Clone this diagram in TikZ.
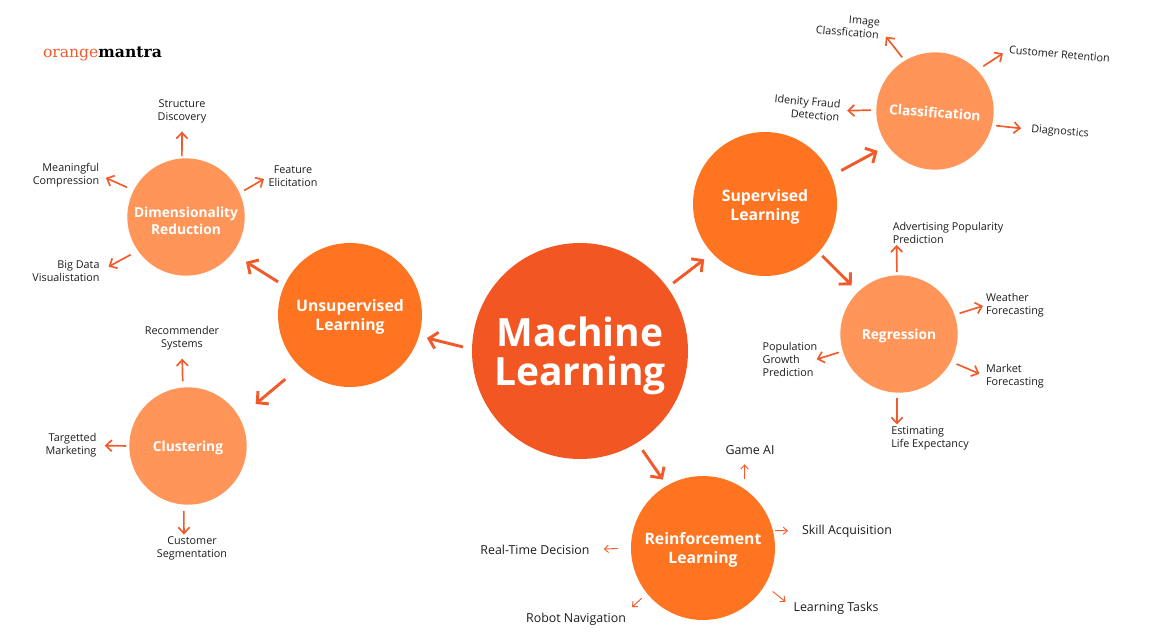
\documentclass[tikz,border=0pt]{standalone}
\usepackage{fontspec}
\setmainfont{Open Sans}
\newfontfamily\logofont{DejaVu Serif}
\usetikzlibrary{arrows.meta}
\definecolor{mlred}{HTML}{F15623}
\definecolor{midorange}{HTML}{FF7421}
\definecolor{softorange}{HTML}{FF9558}
\definecolor{arrowred}{HTML}{F15A2B}
\definecolor{labelgrey}{HTML}{1C1C1C}
\newcommand{\nudge}[2]{\raisebox{-#1}[\height][\depth]{#2}}
\tikzset{
	bubble/.style={circle,inner sep=0pt,text=white,align=center,font=\bfseries},
	mainbubble/.style={bubble,fill=mlred,minimum size=162pt,font=\fontsize{29.2}{29.3}\selectfont\bfseries},
	midbubble/.style={bubble,fill=midorange,minimum size=108pt,font=\fontsize{11.8}{14.2}\selectfont\bfseries},
	softbubble/.style={bubble,fill=softorange,minimum size=88pt,font=\fontsize{10.3}{12.8}\selectfont\bfseries},
	leaf/.style={inner sep=0pt,text=labelgrey,font=\fontsize{8.1}{9.75}\selectfont},
	bigleaf/.style={leaf,font=\fontsize{9.3}{11}\selectfont},
	gap/.style 2 args={shorten <=#1*0.75pt,shorten >=#2*0.75pt},
	fatarrow/.style={draw=arrowred,line width=2.2pt,-{Straight Barb[length=6pt,width=12.5pt]}},
	leafarrow/.style={draw=arrowred,line width=1.25pt,-{Straight Barb[length=4.5pt,width=8.5pt]}},
	thinarrow/.style={draw=arrowred,line width=0.7pt,-{Straight Barb[length=3pt,width=5.5pt]}}
}
\begin{document}
\begin{tikzpicture}[x=0.75pt,y=-0.75pt]
	\useasboundingbox (0,0) rectangle (1160,638);
	% logo
	\node[inner sep=0pt,font=\fontsize{11.7}{14}\logofont] (logo) at (102.5,54) {\textcolor{arrowred}{orange}\textcolor{black}{\bfseries mantra}};
	% circles
	\node[mainbubble] (ml) at (580,351) {\nudge{4pt}{Machine}\\\nudge{4pt}{Learning}};
	\node[midbubble] (sup) at (765,204) {\nudge{1.9pt}{Supervised}\\\nudge{1.9pt}{Learning}};
	\node[midbubble] (unsup) at (350,315) {\nudge{1.5pt}{Unsupervised}\\\nudge{1.5pt}{Learning}};
	\node[midbubble] (rein) at (703,548) {\nudge{1.5pt}{Reinforcement}\\\nudge{1.5pt}{Learning}};
	\node[softbubble,rotate=-4] (classif) at (935,111) {\nudge{1pt}{Classification}};
	\node[softbubble] (regr) at (899,334) {\nudge{1.5pt}{Regression}};
	\node[softbubble] (dimred) at (186,217) {\nudge{3pt}{Dimensionality}\\\nudge{3pt}{Reduction}};
	\node[softbubble] (clust) at (188,446) {\nudge{1.5pt}{Clustering}};
	% labels, unsupervised side
	\node[leaf,align=center] (structure) at (182,111.5) {Structure\\Discovery};
	\node[leaf,align=right] (meaningful) at (66,175) {Meaningful\\Compression};
	\node[leaf,align=center] (feature) at (293,176.5) {Feature\\Elicitation};
	\node[leaf,align=right] (bigdata) at (66,271.5) {Big Data\\Visualistation};
	\node[leaf,align=center] (recommender) at (182,338.5) {Recommender\\Systems};
	\node[leaf,align=right] (targetted) at (71,445.5) {Targetted\\Marketing};
	\node[leaf,align=center] (segment) at (192,548.5) {Customer\\Segmentation};
	% labels, classification
	\node[leaf,align=right,rotate=-5] (imageclass) at (848,26) {Image\\Classfication};
	\node[leaf,rotate=-5] (retention) at (1059.5,54) {Customer Retention};
	\node[leaf,align=right,rotate=-5] (fraud) at (807,108) {Idenity Fraud\\Detection};
	\node[leaf,rotate=-5] (diagnostics) at (1060,132) {Diagnostics};
	% labels, regression
	\node[leaf,align=left] (advert) at (948,233) {Advertising Popularity\\Prediction};
	\node[leaf,align=left] (weather) at (1015,305) {Weather\\Forecasting};
	\node[leaf,align=left] (market) at (1015,376.5) {Market\\Forecasting};
	\node[leaf,align=left] (lifeexp) at (930,438.5) {Estimating\\Life Expectancy};
	\node[leaf,align=left] (population) at (790,359) {Population\\Growth\\Prediction};
	% labels, reinforcement
	\node[bigleaf] (gameai) at (750,450.5) {Game AI};
	\node[bigleaf] (skill) at (847,531) {Skill Acquisition};
	\node[bigleaf] (tasks) at (836,608) {Learning Tasks};
	\node[bigleaf] (realtime) at (535,549.5) {Real-Time Decision};
	\node[bigleaf] (robot) at (576,619) {Robot Navigation};
	% main arrows
	\draw[fatarrow,gap={9}{8}] (ml.179) -- (unsup.-17);
	\draw[fatarrow,gap={7}{16}] (unsup.156) -- (dimred.-38);
	\draw[fatarrow,gap={19}{21}] (unsup.226) -- (clust.29.5);
	\draw[fatarrow,gap={7}{10}] (ml.36) -- (sup.223);
	\draw[fatarrow,gap={11}{11}] (sup.23) -- (classif.220);
	\draw[fatarrow,gap={5}{9}] (sup.-42) -- (regr.134);
	\draw[fatarrow,gap={9}{7}] (ml.-58) -- (rein.120);
	% dimensionality reduction
	\draw[leafarrow,gap={2}{8}] (dimred.94) -- (structure.south);
	\draw[leafarrow,gap={7}{7}] (dimred.153) -- (meaningful.east);
	\draw[leafarrow,gap={5}{5}] (dimred.24) -- (feature.west);
	\draw[leafarrow,gap={8}{10}] (dimred.215) -- (bigdata.east);
	% clustering
	\draw[leafarrow,gap={6}{8}] (clust.95) -- (recommender.south);
	\draw[leafarrow,gap={3}{8}] (clust.180) -- (targetted.east);
	\draw[leafarrow,gap={6}{2}] (clust.266) -- (segment.124);
	% classification
	\draw[leafarrow,gap={4}{10}] (classif.125) -- (imageclass.east);
	\draw[leafarrow,gap={7}{7}] (classif.48) -- (retention.west);
	\draw[leafarrow,gap={5}{7}] (classif.183) -- (fraud.east);
	\draw[leafarrow,gap={4}{10}] (classif.-10) -- (diagnostics.west);
	% regression
	\draw[leafarrow,gap={3}{1}] (regr.92) -- (advert.192.6);
	\draw[leafarrow,gap={5}{3}] (regr.19) -- (weather.west);
	\draw[leafarrow,gap={6}{7}] (regr.-28) -- (market.west);
	\draw[leafarrow,gap={5}{2}] (regr.268) -- (lifeexp.160);
	\draw[leafarrow,gap={4}{-1}] (regr.197.5) -- (population.east);
	% reinforcement
	\draw[thinarrow,gap={10}{9}] (rein.55.5) -- (gameai.222);
	\draw[thinarrow,gap={2}{14}] (rein.14) -- (skill.west);
	\draw[thinarrow,gap={10}{10}] (rein.-31.5) -- (tasks.west);
	\draw[thinarrow,gap={13}{14}] (rein.180) -- (realtime.east);
	\draw[thinarrow,gap={7}{8}] (rein.219) -- (robot.north east);
\end{tikzpicture}
\end{document}
